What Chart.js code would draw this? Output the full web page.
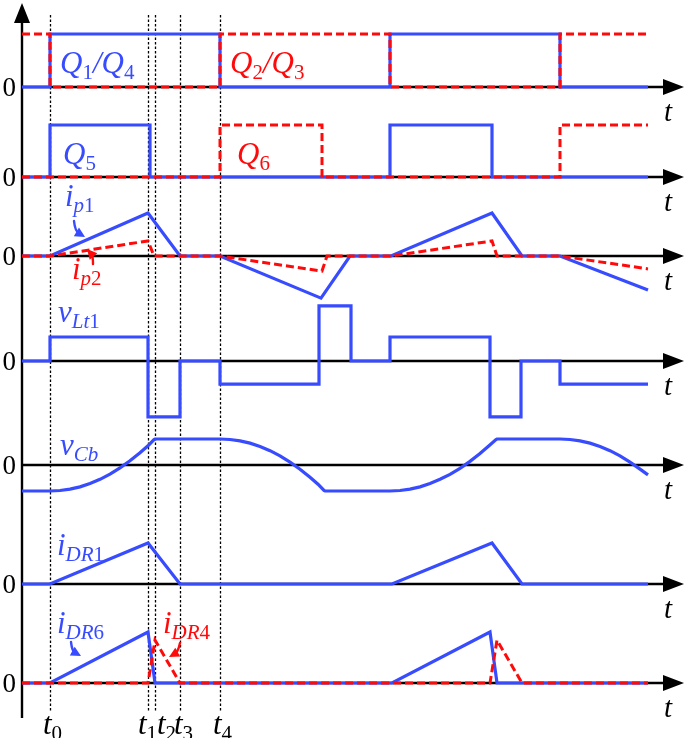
<!DOCTYPE html>
<html>
<head>
<meta charset="utf-8">
<script src="https://cdn.jsdelivr.net/npm/chart.js@4/dist/chart.umd.min.js"></script>
<style>
html, body { margin: 0; padding: 0; background: #fff; }
#wrap { width: 685px; height: 738px; position: relative; }
</style>
</head>
<body>
<div id="wrap"><canvas id="myChart"></canvas></div>
<script>
const grafico = document.querySelector("#myChart")

// instantes marcados no eixo (t0 = 0)
const marcas = [0, 98, 105, 130, 170]
const marcasTexto = ["0", "1", "2", "3", "4"]

// formas de onda [t, valor]
const q14 = [[-28, 0], [0, 0], [0, 1], [170, 1], [170, 0], [340, 0], [340, 1], [510, 1], [510, 0], [598, 0]]
const q23 = [[-28, 1], [0, 1], [0, 0], [170, 0], [170, 1], [340, 1], [340, 0], [510, 0], [510, 1], [598, 1]]
const q5 = [[-28, 0], [0, 0], [0, 1], [100, 1], [100, 0], [340, 0], [340, 1], [442, 1], [442, 0], [598, 0]]
const q6 = [[-28, 0], [170, 0], [170, 1], [272, 1], [272, 0], [510, 0], [510, 1], [598, 1]]
const ip1 = [[-28, 0], [0, 0], [98, 1], [130, 0], [170, 0], [271, -0.98], [300, 0], [341, 0], [442, 1], [472, 0], [510, 0], [598, -0.79]]
const ip2 = [[-28, 0], [0, 0], [98, 0.35], [104, 0], [170, 0], [272, -0.35], [277, 0], [341, 0], [442, 0.35], [447, 0], [510, 0], [598, -0.3]]
const vLt1 = [[-28, 0], [0, 0], [0, 1], [98, 1], [98, -2.33], [130, -2.33], [130, 0], [170, 0], [170, -0.96], [269, -0.96], [269, 2.3], [301, 2.3], [301, 0], [340, 0], [340, 1], [440, 1], [440, -2.33], [471, -2.33], [471, 0], [510, 0], [510, -0.96], [598, -0.96]]
const vCb = [[-28, -1], [0, -1], [10, -0.98], [20, -0.93], [30, -0.84], [40, -0.71], [50, -0.55], [60, -0.35], [70, -0.11], [80, 0.16], [90, 0.47], [98, 0.74], [104, 0.98], [105, 1],
    [170, 1], [180, 0.98], [190, 0.93], [200, 0.84], [210, 0.71], [220, 0.55], [230, 0.35], [240, 0.11], [250, -0.16], [260, -0.47], [268, -0.74], [274, -0.98], [275, -1],
    [340, -1], [350, -0.98], [360, -0.93], [370, -0.84], [380, -0.71], [390, -0.55], [400, -0.36], [410, -0.13], [420, 0.14], [430, 0.44], [439, 0.74], [446, 0.98], [447, 1],
    [510, 1], [520, 0.98], [530, 0.93], [540, 0.84], [550, 0.71], [560, 0.55], [570, 0.35], [580, 0.11], [590, -0.16], [598, -0.38]]
const iDR1 = [[-28, 0], [0, 0], [98, 1], [130, 0], [342, 0], [442, 1], [472, 0], [598, 0]]
const iDR6 = [[-28, 0], [0, 0], [98, 1], [105, 0], [342, 0], [440, 1], [447, 0], [598, 0]]
const iDR4 = [[-28, 0], [98, 0], [105, 0.84], [130, 0], [440, 0], [447, 0.84], [472, 0], [598, 0]]

const azul = "rgb(55, 75, 255)"
const vermelho = "rgb(255, 10, 10)"
const fonte = '"Liberation Serif", "Times New Roman", serif'

// posicao de cada faixa: linha do zero (px) e px por unidade
const faixas = {
    y1: { b: 87, k: 53 },
    y2: { b: 177, k: 52 },
    y3: { b: 256, k: 43 },
    y4: { b: 361, k: 24 },
    y5: { b: 465, k: 26 },
    y6: { b: 584, k: 41 },
    y7: { b: 683, k: 51 }
}
const altura = 738

const pontos = function (arr) {
    return arr.map(p => ({ x: p[0], y: p[1] }))
}

const serie = function (dados, eixo, cor, tracejado) {
    return {
        data: pontos(dados),
        yAxisID: eixo,
        borderColor: cor,
        borderWidth: tracejado ? 3 : 3.2,
        borderDash: tracejado ? [8, 4] : [],
        pointRadius: 0,
        fill: false,
        order: tracejado ? 1 : 2
    }
}

const escalas = {
    x: { type: "linear", min: -50, max: 635, display: false }
}
for (const id in faixas) {
    const f = faixas[id]
    escalas[id] = { type: "linear", display: false, max: f.b / f.k, min: (f.b - altura) / f.k }
}

// textos com indices
const rotulos = [
    { x: 60, y: 73, c: azul, p: [["Q", "i"], ["1", "s"], ["/", "i"], ["Q", "i"], ["4", "s"]] },
    { x: 230, y: 73, c: vermelho, p: [["Q", "i"], ["2", "s"], ["/", "i"], ["Q", "i"], ["3", "s"]] },
    { x: 63, y: 164, c: azul, p: [["Q", "i"], ["5", "s"]] },
    { x: 237, y: 164, c: vermelho, p: [["Q", "i"], ["6", "s"]] },
    { x: 65, y: 206, c: azul, p: [["i", "i"], ["p", "si"], ["1", "s"]] },
    { x: 72, y: 279, c: vermelho, p: [["i", "i"], ["p", "si"], ["2", "s"]] },
    { x: 58, y: 322, c: azul, p: [["v", "i"], ["Lt", "si"], ["1", "s"]] },
    { x: 60, y: 455, c: azul, p: [["v", "i"], ["Cb", "si"]] },
    { x: 57, y: 555, c: azul, p: [["i", "i"], ["DR", "si"], ["1", "s"]] },
    { x: 57, y: 633, c: azul, p: [["i", "i"], ["DR", "si"], ["6", "s"]] },
    { x: 163, y: 633, c: vermelho, p: [["i", "i"], ["DR", "si"], ["4", "s"]] }
]
const marcasX = [43, 138, 157, 174, 213]

// setas curvas: inicio, controle, fim
const setas = [
    { c: azul, p: [74, 221, 75, 231, 85, 237] },
    { c: vermelho, p: [93, 264, 93, 256, 87, 249] },
    { c: azul, p: [71, 642, 72, 651, 81, 656] },
    { c: vermelho, p: [180, 643, 178, 652, 169, 657] }
]

const escrever = function (ctx, x, y, partes, cor) {
    let cx = x
    ctx.fillStyle = cor
    ctx.textAlign = "left"
    ctx.textBaseline = "alphabetic"
    for (const [s, tipo] of partes) {
        const sub = tipo[0] === "s"
        const ital = tipo !== "s"
        ctx.font = (ital ? "italic " : "") + (sub ? 21 : 31) + "px " + fonte
        ctx.fillText(s, cx, sub ? y + 6 : y)
        cx += ctx.measureText(s).width
    }
}

const ponta = function (ctx, x, y, ang, comp, larg, cor) {
    ctx.save()
    ctx.translate(x, y)
    ctx.rotate(ang)
    ctx.fillStyle = cor
    ctx.beginPath()
    ctx.moveTo(0, 0)
    ctx.lineTo(-comp, -larg)
    ctx.lineTo(-comp, larg)
    ctx.closePath()
    ctx.fill()
    ctx.restore()
}

const desenho = {
    id: "desenho",
    beforeDatasetsDraw(chart) {
        const ctx = chart.ctx
        const sx = chart.scales.x
        ctx.save()
        // linhas tracejadas dos instantes
        ctx.strokeStyle = "#000"
        ctx.lineWidth = 1.3
        ctx.setLineDash([2.5, 2])
        for (const m of marcas) {
            const px = Math.round(sx.getPixelForValue(m)) + 0.5
            ctx.beginPath()
            ctx.moveTo(px, 15)
            ctx.lineTo(px, 712)
            ctx.stroke()
        }
        ctx.setLineDash([])
        // eixos de cada faixa
        ctx.lineWidth = 2.4
        for (const id in faixas) {
            const py = chart.scales[id].getPixelForValue(0)
            ctx.beginPath()
            ctx.moveTo(22, py)
            ctx.lineTo(670, py)
            ctx.stroke()
        }
        ctx.beginPath()
        ctx.moveTo(22, 18)
        ctx.lineTo(22, 718)
        ctx.stroke()
        ctx.restore()
    },
    afterDatasetsDraw(chart) {
        const ctx = chart.ctx
        ctx.save()
        ponta(ctx, 22, 3, -Math.PI / 2, 20, 8, "#000")
        for (const id in faixas) {
            const py = chart.scales[id].getPixelForValue(0)
            ponta(ctx, 684, py, 0, 21, 8, "#000")
            ctx.fillStyle = "#000"
            ctx.font = "27px " + fonte
            ctx.textAlign = "right"
            ctx.textBaseline = "alphabetic"
            ctx.fillText("0", 16, py + 9)
            ctx.font = "italic 29px " + fonte
            ctx.textAlign = "left"
            ctx.fillText("t", 664, py + 34)
        }
        marcas.forEach((m, i) => {
            escrever(ctx, marcasX[i], 734, [["t", "i"], [marcasTexto[i], "s"]], "#000")
        })
        for (const r of rotulos) escrever(ctx, r.x, r.y, r.p, r.c)
        for (const s of setas) {
            const [x0, y0, cx, cy, x1, y1] = s.p
            const ang = Math.atan2(y1 - cy, x1 - cx)
            ctx.strokeStyle = s.c
            ctx.lineWidth = 2.4
            ctx.lineCap = "round"
            ctx.beginPath()
            ctx.moveTo(x0, y0)
            ctx.quadraticCurveTo(cx, cy, x1 - Math.cos(ang) * 7, y1 - Math.sin(ang) * 7)
            ctx.stroke()
            ponta(ctx, x1, y1, ang, 10, 5, s.c)
        }
        ctx.restore()
    }
}

new Chart(grafico, {
    type: "line",
    data: {
        datasets: [
            serie(q14, "y1", azul, false),
            serie(q23, "y1", vermelho, true),
            serie(q5, "y2", azul, false),
            serie(q6, "y2", vermelho, true),
            serie(ip1, "y3", azul, false),
            serie(ip2, "y3", vermelho, true),
            serie(vLt1, "y4", azul, false),
            serie(vCb, "y5", azul, false),
            serie(iDR1, "y6", azul, false),
            serie(iDR6, "y7", azul, false),
            serie(iDR4, "y7", vermelho, true)
        ]
    },
    options: {
        responsive: true,
        maintainAspectRatio: false,
        animation: false,
        layout: { padding: 0 },
        scales: escalas,
        plugins: { legend: { display: false }, tooltip: { enabled: false } }
    },
    plugins: [desenho]
})
</script>
</body>
</html>
